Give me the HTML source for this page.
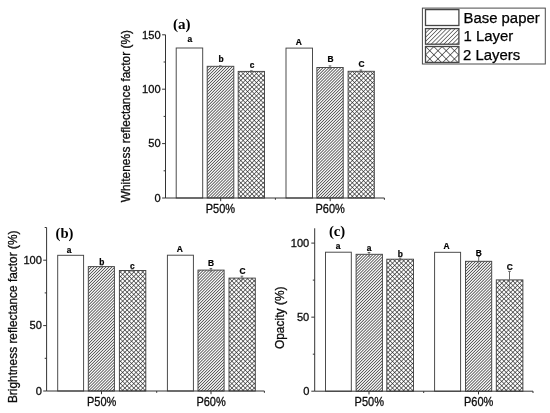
<!DOCTYPE html>
<html lang="en">
<head>
<meta charset="utf-8">
<title>Reflectance factors and opacity of coated papers</title>
<style>
html,body{margin:0;padding:0;background:#fff;}
body{width:550px;height:413px;overflow:hidden;}
svg{display:block;}
text{font-family:"Liberation Sans",Arial,Helvetica,sans-serif;fill:#0c0c0c;stroke:#0c0c0c;stroke-width:0.3px;}
.t{font-family:"Liberation Serif","Times New Roman",Times,serif;font-weight:bold;font-size:14px;fill:#000;stroke:none;}
.tk{font-size:11.1px;text-anchor:end;}
.xl{font-size:12.4px;}
.yl{font-size:11.9px;}
.s{font-size:8.4px;font-weight:bold;text-anchor:middle;fill:#000;stroke:#000;stroke-width:0.22px;}
.lg{font-size:14.9px;fill:#000;stroke:#000;stroke-width:0.25px;}
.ax{stroke:#333;stroke-width:1;fill:none;}
.b{stroke:#444;stroke-width:0.95;fill:none;}
.e{stroke:#606060;stroke-width:0.95;fill:none;}
.e2{stroke:#606060;stroke-width:0.9;fill:none;opacity:0.6;}
</style>
</head>
<body>
<svg width="550" height="413" viewBox="0 0 550 413">
<rect width="550" height="413" fill="#fff"/>

<defs>
<linearGradient id="h1" gradientUnits="userSpaceOnUse" x1="0" y1="0" x2="1.48" y2="1.48" spreadMethod="repeat"><stop offset="0%" stop-color="#1c1c1c" stop-opacity="0.729"/><stop offset="4.17%" stop-color="#1c1c1c" stop-opacity="0.709"/><stop offset="8.33%" stop-color="#1c1c1c" stop-opacity="0.652"/><stop offset="12.5%" stop-color="#1c1c1c" stop-opacity="0.567"/><stop offset="16.67%" stop-color="#1c1c1c" stop-opacity="0.465"/><stop offset="20.83%" stop-color="#1c1c1c" stop-opacity="0.358"/><stop offset="25%" stop-color="#1c1c1c" stop-opacity="0.26"/><stop offset="29.17%" stop-color="#1c1c1c" stop-opacity="0.176"/><stop offset="33.33%" stop-color="#1c1c1c" stop-opacity="0.111"/><stop offset="37.5%" stop-color="#1c1c1c" stop-opacity="0.066"/><stop offset="41.67%" stop-color="#1c1c1c" stop-opacity="0.038"/><stop offset="45.83%" stop-color="#1c1c1c" stop-opacity="0.022"/><stop offset="50%" stop-color="#1c1c1c" stop-opacity="0.017"/><stop offset="54.17%" stop-color="#1c1c1c" stop-opacity="0.022"/><stop offset="58.33%" stop-color="#1c1c1c" stop-opacity="0.038"/><stop offset="62.5%" stop-color="#1c1c1c" stop-opacity="0.066"/><stop offset="66.67%" stop-color="#1c1c1c" stop-opacity="0.111"/><stop offset="70.83%" stop-color="#1c1c1c" stop-opacity="0.176"/><stop offset="75%" stop-color="#1c1c1c" stop-opacity="0.26"/><stop offset="79.17%" stop-color="#1c1c1c" stop-opacity="0.358"/><stop offset="83.33%" stop-color="#1c1c1c" stop-opacity="0.465"/><stop offset="87.5%" stop-color="#1c1c1c" stop-opacity="0.567"/><stop offset="91.67%" stop-color="#1c1c1c" stop-opacity="0.652"/><stop offset="95.83%" stop-color="#1c1c1c" stop-opacity="0.709"/><stop offset="100%" stop-color="#1c1c1c" stop-opacity="0.729"/></linearGradient>
<linearGradient id="x1" gradientUnits="userSpaceOnUse" x1="0" y1="0" x2="2.23" y2="2.23" spreadMethod="repeat"><stop offset="0%" stop-color="#1c1c1c" stop-opacity="0.675"/><stop offset="4.17%" stop-color="#1c1c1c" stop-opacity="0.63"/><stop offset="8.33%" stop-color="#1c1c1c" stop-opacity="0.511"/><stop offset="12.5%" stop-color="#1c1c1c" stop-opacity="0.361"/><stop offset="16.67%" stop-color="#1c1c1c" stop-opacity="0.22"/><stop offset="20.83%" stop-color="#1c1c1c" stop-opacity="0.114"/><stop offset="25%" stop-color="#1c1c1c" stop-opacity="0.05"/><stop offset="29.17%" stop-color="#1c1c1c" stop-opacity="0.019"/><stop offset="33.33%" stop-color="#1c1c1c" stop-opacity="0.006"/><stop offset="37.5%" stop-color="#1c1c1c" stop-opacity="0.002"/><stop offset="41.67%" stop-color="#1c1c1c" stop-opacity="0"/><stop offset="45.83%" stop-color="#1c1c1c" stop-opacity="0"/><stop offset="50%" stop-color="#1c1c1c" stop-opacity="0"/><stop offset="54.17%" stop-color="#1c1c1c" stop-opacity="0"/><stop offset="58.33%" stop-color="#1c1c1c" stop-opacity="0"/><stop offset="62.5%" stop-color="#1c1c1c" stop-opacity="0.002"/><stop offset="66.67%" stop-color="#1c1c1c" stop-opacity="0.006"/><stop offset="70.83%" stop-color="#1c1c1c" stop-opacity="0.019"/><stop offset="75%" stop-color="#1c1c1c" stop-opacity="0.05"/><stop offset="79.17%" stop-color="#1c1c1c" stop-opacity="0.114"/><stop offset="83.33%" stop-color="#1c1c1c" stop-opacity="0.22"/><stop offset="87.5%" stop-color="#1c1c1c" stop-opacity="0.361"/><stop offset="91.67%" stop-color="#1c1c1c" stop-opacity="0.511"/><stop offset="95.83%" stop-color="#1c1c1c" stop-opacity="0.63"/><stop offset="100%" stop-color="#1c1c1c" stop-opacity="0.675"/></linearGradient>
<linearGradient id="x2" gradientUnits="userSpaceOnUse" x1="0" y1="0" x2="2.23" y2="-2.23" spreadMethod="repeat"><stop offset="0%" stop-color="#1c1c1c" stop-opacity="0.675"/><stop offset="4.17%" stop-color="#1c1c1c" stop-opacity="0.63"/><stop offset="8.33%" stop-color="#1c1c1c" stop-opacity="0.511"/><stop offset="12.5%" stop-color="#1c1c1c" stop-opacity="0.361"/><stop offset="16.67%" stop-color="#1c1c1c" stop-opacity="0.22"/><stop offset="20.83%" stop-color="#1c1c1c" stop-opacity="0.114"/><stop offset="25%" stop-color="#1c1c1c" stop-opacity="0.05"/><stop offset="29.17%" stop-color="#1c1c1c" stop-opacity="0.019"/><stop offset="33.33%" stop-color="#1c1c1c" stop-opacity="0.006"/><stop offset="37.5%" stop-color="#1c1c1c" stop-opacity="0.002"/><stop offset="41.67%" stop-color="#1c1c1c" stop-opacity="0"/><stop offset="45.83%" stop-color="#1c1c1c" stop-opacity="0"/><stop offset="50%" stop-color="#1c1c1c" stop-opacity="0"/><stop offset="54.17%" stop-color="#1c1c1c" stop-opacity="0"/><stop offset="58.33%" stop-color="#1c1c1c" stop-opacity="0"/><stop offset="62.5%" stop-color="#1c1c1c" stop-opacity="0.002"/><stop offset="66.67%" stop-color="#1c1c1c" stop-opacity="0.006"/><stop offset="70.83%" stop-color="#1c1c1c" stop-opacity="0.019"/><stop offset="75%" stop-color="#1c1c1c" stop-opacity="0.05"/><stop offset="79.17%" stop-color="#1c1c1c" stop-opacity="0.114"/><stop offset="83.33%" stop-color="#1c1c1c" stop-opacity="0.22"/><stop offset="87.5%" stop-color="#1c1c1c" stop-opacity="0.361"/><stop offset="91.67%" stop-color="#1c1c1c" stop-opacity="0.511"/><stop offset="95.83%" stop-color="#1c1c1c" stop-opacity="0.63"/><stop offset="100%" stop-color="#1c1c1c" stop-opacity="0.675"/></linearGradient>
<linearGradient id="l1" gradientUnits="userSpaceOnUse" x1="229.3" y1="229.3" x2="231.4" y2="231.4" spreadMethod="repeat"><stop offset="0%" stop-color="#222" stop-opacity="0.684"/><stop offset="4.17%" stop-color="#222" stop-opacity="0.644"/><stop offset="8.33%" stop-color="#222" stop-opacity="0.536"/><stop offset="12.5%" stop-color="#222" stop-opacity="0.395"/><stop offset="16.67%" stop-color="#222" stop-opacity="0.255"/><stop offset="20.83%" stop-color="#222" stop-opacity="0.143"/><stop offset="25%" stop-color="#222" stop-opacity="0.07"/><stop offset="29.17%" stop-color="#222" stop-opacity="0.03"/><stop offset="33.33%" stop-color="#222" stop-opacity="0.011"/><stop offset="37.5%" stop-color="#222" stop-opacity="0.003"/><stop offset="41.67%" stop-color="#222" stop-opacity="0.001"/><stop offset="45.83%" stop-color="#222" stop-opacity="0"/><stop offset="50%" stop-color="#222" stop-opacity="0"/><stop offset="54.17%" stop-color="#222" stop-opacity="0"/><stop offset="58.33%" stop-color="#222" stop-opacity="0.001"/><stop offset="62.5%" stop-color="#222" stop-opacity="0.003"/><stop offset="66.67%" stop-color="#222" stop-opacity="0.011"/><stop offset="70.83%" stop-color="#222" stop-opacity="0.03"/><stop offset="75%" stop-color="#222" stop-opacity="0.07"/><stop offset="79.17%" stop-color="#222" stop-opacity="0.143"/><stop offset="83.33%" stop-color="#222" stop-opacity="0.255"/><stop offset="87.5%" stop-color="#222" stop-opacity="0.395"/><stop offset="91.67%" stop-color="#222" stop-opacity="0.536"/><stop offset="95.83%" stop-color="#222" stop-opacity="0.644"/><stop offset="100%" stop-color="#222" stop-opacity="0.684"/></linearGradient>
<linearGradient id="m1" gradientUnits="userSpaceOnUse" x1="240.22" y1="240.22" x2="244.34" y2="244.34" spreadMethod="repeat"><stop offset="0%" stop-color="#222" stop-opacity="0.712"/><stop offset="4.17%" stop-color="#222" stop-opacity="0.571"/><stop offset="8.33%" stop-color="#222" stop-opacity="0.285"/><stop offset="12.5%" stop-color="#222" stop-opacity="0.086"/><stop offset="16.67%" stop-color="#222" stop-opacity="0.015"/><stop offset="20.83%" stop-color="#222" stop-opacity="0.001"/><stop offset="25%" stop-color="#222" stop-opacity="0"/><stop offset="29.17%" stop-color="#222" stop-opacity="0"/><stop offset="33.33%" stop-color="#222" stop-opacity="0"/><stop offset="37.5%" stop-color="#222" stop-opacity="0"/><stop offset="41.67%" stop-color="#222" stop-opacity="0"/><stop offset="45.83%" stop-color="#222" stop-opacity="0"/><stop offset="50%" stop-color="#222" stop-opacity="0"/><stop offset="54.17%" stop-color="#222" stop-opacity="0"/><stop offset="58.33%" stop-color="#222" stop-opacity="0"/><stop offset="62.5%" stop-color="#222" stop-opacity="0"/><stop offset="66.67%" stop-color="#222" stop-opacity="0"/><stop offset="70.83%" stop-color="#222" stop-opacity="0"/><stop offset="75%" stop-color="#222" stop-opacity="0"/><stop offset="79.17%" stop-color="#222" stop-opacity="0.001"/><stop offset="83.33%" stop-color="#222" stop-opacity="0.015"/><stop offset="87.5%" stop-color="#222" stop-opacity="0.086"/><stop offset="91.67%" stop-color="#222" stop-opacity="0.285"/><stop offset="95.83%" stop-color="#222" stop-opacity="0.571"/><stop offset="100%" stop-color="#222" stop-opacity="0.712"/></linearGradient>
<linearGradient id="m2" gradientUnits="userSpaceOnUse" x1="189.53" y1="-189.53" x2="193.64" y2="-193.64" spreadMethod="repeat"><stop offset="0%" stop-color="#222" stop-opacity="0.712"/><stop offset="4.17%" stop-color="#222" stop-opacity="0.571"/><stop offset="8.33%" stop-color="#222" stop-opacity="0.285"/><stop offset="12.5%" stop-color="#222" stop-opacity="0.086"/><stop offset="16.67%" stop-color="#222" stop-opacity="0.015"/><stop offset="20.83%" stop-color="#222" stop-opacity="0.001"/><stop offset="25%" stop-color="#222" stop-opacity="0"/><stop offset="29.17%" stop-color="#222" stop-opacity="0"/><stop offset="33.33%" stop-color="#222" stop-opacity="0"/><stop offset="37.5%" stop-color="#222" stop-opacity="0"/><stop offset="41.67%" stop-color="#222" stop-opacity="0"/><stop offset="45.83%" stop-color="#222" stop-opacity="0"/><stop offset="50%" stop-color="#222" stop-opacity="0"/><stop offset="54.17%" stop-color="#222" stop-opacity="0"/><stop offset="58.33%" stop-color="#222" stop-opacity="0"/><stop offset="62.5%" stop-color="#222" stop-opacity="0"/><stop offset="66.67%" stop-color="#222" stop-opacity="0"/><stop offset="70.83%" stop-color="#222" stop-opacity="0"/><stop offset="75%" stop-color="#222" stop-opacity="0"/><stop offset="79.17%" stop-color="#222" stop-opacity="0.001"/><stop offset="83.33%" stop-color="#222" stop-opacity="0.015"/><stop offset="87.5%" stop-color="#222" stop-opacity="0.086"/><stop offset="91.67%" stop-color="#222" stop-opacity="0.285"/><stop offset="95.83%" stop-color="#222" stop-opacity="0.571"/><stop offset="100%" stop-color="#222" stop-opacity="0.712"/></linearGradient>
</defs>
<g id="chart-a">
<rect x="207.2" y="66.3" width="26.6" height="131.7" fill="url(#h1)"/>
<rect x="238.2" y="71.4" width="26.3" height="126.6" fill="url(#x1)"/><rect x="238.2" y="71.4" width="26.3" height="126.6" fill="url(#x2)"/>
<rect x="316.9" y="67.5" width="26.3" height="130.5" fill="url(#h1)"/>
<rect x="348.1" y="71.3" width="26.2" height="126.7" fill="url(#x1)"/><rect x="348.1" y="71.3" width="26.2" height="126.7" fill="url(#x2)"/>
<rect class="b" x="176.2" y="48" width="26.5" height="150"/>
<rect class="b" x="207.2" y="66.3" width="26.6" height="131.7"/>
<rect class="b" x="238.2" y="71.4" width="26.3" height="126.6"/>
<rect class="b" x="286" y="48.1" width="26.5" height="149.9"/>
<rect class="b" x="316.9" y="67.5" width="26.3" height="130.5"/>
<rect class="b" x="348.1" y="71.3" width="26.2" height="126.7"/>
<text class="s" x="189.85" y="42.1">a</text>
<path class="e" d="M220.3,65.8V66.3M219,65.8h2.6"/>
<path class="e2" d="M220.3,66.3V66.8M219,66.8h2.6"/>
<text class="s" x="220.95" y="61.9">b</text>
<path class="e" d="M251.4,70.8V71.4M250.1,70.8h2.6"/>
<path class="e2" d="M251.4,71.4V72M250.1,72h2.6"/>
<text class="s" x="252.05" y="67.9">c</text>
<text class="s" x="298.9" y="44.7">A</text>
<path class="e" d="M330,65.9V67.5M328.7,65.9h2.6"/>
<path class="e2" d="M330,67.5V69M328.7,69h2.6"/>
<text class="s" x="330.45" y="62.2">B</text>
<path class="e" d="M360.9,70V71.3M359.6,70h2.6"/>
<path class="e2" d="M360.9,71.3V72.6M359.6,72.6h2.6"/>
<text class="s" x="361.5" y="66.8">C</text>
<path class="ax" d="M165.5,34.8V198H384.4M165.5,198h-3.4M165.5,143.6h-3.4M165.5,89.2h-3.4M165.5,34.8h-3.4M165.5,170.8h-1.9M165.5,116.4h-1.9M165.5,62h-1.9M220.7,198v3.2M275.4,198v1.8M330.2,198v3.2M384.4,198v1.8"/>
<text class="tk" x="160.6" y="201.85">0</text>
<text class="tk" x="160.6" y="147.45">50</text>
<text class="tk" x="160.6" y="93.05">100</text>
<text class="tk" x="160.6" y="38.65">150</text>
<text class="xl" x="205.7" y="212.7" textLength="29.4" lengthAdjust="spacingAndGlyphs">P50%</text>
<text class="xl" x="315.5" y="212.7" textLength="29.4" lengthAdjust="spacingAndGlyphs">P60%</text>
<text class="yl" transform="translate(130,202.3) rotate(-90)" textLength="172.4" lengthAdjust="spacing">Whiteness reflectance factor (%)</text>
<text class="t" x="172.9" y="28.7" textLength="17.6" lengthAdjust="spacingAndGlyphs">(a)</text>
</g>
<g id="chart-b">
<rect x="88.3" y="266.6" width="26.1" height="124.4" fill="url(#h1)"/>
<rect x="119.4" y="270.5" width="26.4" height="120.5" fill="url(#x1)"/><rect x="119.4" y="270.5" width="26.4" height="120.5" fill="url(#x2)"/>
<rect x="198" y="270.1" width="26.1" height="120.9" fill="url(#h1)"/>
<rect x="229" y="278.1" width="26.3" height="112.9" fill="url(#x1)"/><rect x="229" y="278.1" width="26.3" height="112.9" fill="url(#x2)"/>
<rect class="b" x="57.7" y="255.3" width="25.9" height="135.7"/>
<rect class="b" x="88.3" y="266.6" width="26.1" height="124.4"/>
<rect class="b" x="119.4" y="270.5" width="26.4" height="120.5"/>
<rect class="b" x="167.4" y="255.2" width="26" height="135.8"/>
<rect class="b" x="198" y="270.1" width="26.1" height="120.9"/>
<rect class="b" x="229" y="278.1" width="26.3" height="112.9"/>
<text class="s" x="69" y="252.8">a</text>
<path class="e" d="M101.6,266V266.6M100.3,266h2.6"/>
<path class="e2" d="M101.6,266.6V267.2M100.3,267.2h2.6"/>
<text class="s" x="101.75" y="264.8">b</text>
<path class="e" d="M132.2,270V270.5M130.9,270h2.6"/>
<path class="e2" d="M132.2,270.5V271.2M130.9,271.2h2.6"/>
<text class="s" x="132.3" y="268.6">c</text>
<text class="s" x="179.9" y="252.2">A</text>
<path class="e" d="M210.9,268.5V270.1M209.6,268.5h2.6"/>
<path class="e2" d="M210.9,270.1V271.7M209.6,271.7h2.6"/>
<text class="s" x="211.1" y="265.8">B</text>
<path class="e" d="M241.9,276.2V278.1M240.6,276.2h2.6"/>
<path class="e2" d="M241.9,278.1V280M240.6,280h2.6"/>
<text class="s" x="242.55" y="274.1">C</text>
<path class="ax" d="M46.6,227.5V391H264.4M46.6,391h-3.4M46.6,325.6h-3.4M46.6,260.2h-3.4M46.6,358.3h-1.9M46.6,292.9h-1.9M46.6,227.5h-1.9M101.5,391v3.2M156.7,391v1.8M211,391v3.2M264.4,391v1.8"/>
<text class="tk" x="41.9" y="394.85">0</text>
<text class="tk" x="41.9" y="329.45">50</text>
<text class="tk" x="41.9" y="264.05">100</text>
<text class="xl" x="87" y="406" textLength="29.4" lengthAdjust="spacingAndGlyphs">P50%</text>
<text class="xl" x="196.4" y="406" textLength="29.4" lengthAdjust="spacingAndGlyphs">P60%</text>
<text class="yl" transform="translate(16.9,403.1) rotate(-90)" textLength="172.6" lengthAdjust="spacing">Brightness reflectance factor (%)</text>
<text class="t" x="55.6" y="238" textLength="17.9" lengthAdjust="spacingAndGlyphs">(b)</text>
</g>
<g id="chart-c">
<rect x="356.1" y="254.3" width="26.3" height="136.9" fill="url(#h1)"/>
<rect x="386.8" y="259.2" width="26.7" height="132" fill="url(#x1)"/><rect x="386.8" y="259.2" width="26.7" height="132" fill="url(#x2)"/>
<rect x="465.5" y="261.3" width="26.2" height="129.9" fill="url(#h1)"/>
<rect x="496.3" y="279.9" width="26.6" height="111.3" fill="url(#x1)"/><rect x="496.3" y="279.9" width="26.6" height="111.3" fill="url(#x2)"/>
<rect class="b" x="325.5" y="252.2" width="25.8" height="139"/>
<rect class="b" x="356.1" y="254.3" width="26.3" height="136.9"/>
<rect class="b" x="386.8" y="259.2" width="26.7" height="132"/>
<rect class="b" x="434.6" y="252.3" width="26" height="138.9"/>
<rect class="b" x="465.5" y="261.3" width="26.2" height="129.9"/>
<rect class="b" x="496.3" y="279.9" width="26.6" height="111.3"/>
<text class="s" x="338.1" y="248.7">a</text>
<path class="e" d="M369,252.5V254.3M367.7,252.5h2.6"/>
<path class="e2" d="M369,254.3V256.3M367.7,256.3h2.6"/>
<text class="s" x="369" y="250.9">a</text>
<path class="e" d="M400.1,258V259.2M398.8,258h2.6"/>
<path class="e2" d="M400.1,259.2V260.5M398.8,260.5h2.6"/>
<text class="s" x="400.25" y="256.7">b</text>
<text class="s" x="446.55" y="248.9">A</text>
<path class="e" d="M478.7,256.5V261.3M477.4,256.5h2.6"/>
<path class="e2" d="M478.7,261.3V266.8M477.4,266.8h2.6"/>
<text class="s" x="478.9" y="256.2">B</text>
<path class="e" d="M509.5,271.4V279.9M508.2,271.4h2.6"/>
<path class="e2" d="M509.5,279.9V287.7M508.2,287.7h2.6"/>
<text class="s" x="509.7" y="270.2">C</text>
<path class="ax" d="M314.7,228.29V391.2H533M314.7,391.2h-3.4M314.7,317.15h-3.4M314.7,243.1h-3.4M314.7,354.18h-1.9M314.7,280.12h-1.9M369,391.2v3.2M423.7,391.2v1.8M478.5,391.2v3.2M533,391.2v1.8"/>
<text class="tk" x="309.3" y="395.05">0</text>
<text class="tk" x="309.3" y="321">50</text>
<text class="tk" x="309.3" y="246.95">100</text>
<text class="xl" x="354.6" y="406.2" textLength="29.4" lengthAdjust="spacingAndGlyphs">P50%</text>
<text class="xl" x="464" y="406.2" textLength="29.4" lengthAdjust="spacingAndGlyphs">P60%</text>
<text class="yl" transform="translate(284.1,349.1) rotate(-90)" textLength="62.6" lengthAdjust="spacing">Opacity (%)</text>
<text class="t" x="328.9" y="235.6" textLength="16.4" lengthAdjust="spacingAndGlyphs">(c)</text>
</g>
<g id="legend">
<rect x="422.4" y="8.1" width="122.9" height="55.9" fill="#fff" stroke="#4a4a4a" stroke-width="1"/>
<rect x="425.5" y="28.5" width="33.4" height="15.7" fill="url(#l1)"/>
<rect x="425.5" y="46.5" width="33.4" height="15.8" fill="url(#m1)"/><rect x="425.5" y="46.5" width="33.4" height="15.8" fill="url(#m2)"/>
<rect x="425.5" y="9.6" width="33.4" height="15.9" fill="none" stroke="#454545" stroke-width="1.3"/>
<text class="lg" x="463.5" y="22.8">Base paper</text>
<rect x="425.5" y="28.6" width="33.4" height="15.6" fill="none" stroke="#454545" stroke-width="1.3"/>
<text class="lg" x="463.5" y="41.3">1 Layer</text>
<rect x="425.5" y="46.5" width="33.4" height="15.9" fill="none" stroke="#454545" stroke-width="1.3"/>
<text class="lg" x="463.1" y="59.7">2 Layers</text>
</g>
</svg>
</body>
</html>
